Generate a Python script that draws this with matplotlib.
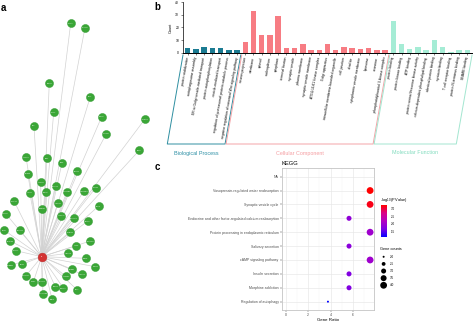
import numpy as np
import matplotlib
matplotlib.use("Agg")
import matplotlib.pyplot as plt
from matplotlib.colors import LinearSegmentedColormap, Normalize
from matplotlib.lines import Line2D
import matplotlib.colorbar as mcolorbar

plt.rcParams['font.family'] = ['Liberation Sans', 'DejaVu Sans']

# ---------------- data ----------------
# a: hub-and-spoke interaction network (layout positions in layout units)
hub_label = "PA"
hub_pos = (41.7, 256.7)
gene_labels = [
    "STX1A", "SNAP25", "VAMP2", "SYT1", "CPLX1", "RAB3A", "STXBP1", "NSF",
    "UNC13A", "SYN1", "ATG13", "ULK1", "ULK2", "PIK3C3", "BECN1", "ATG14",
    "RB1CC1", "AQP2", "RAB5A", "DYNC1H1", "ARHGDIA", "CREB3", "PRKACA",
    "ADCY5", "GNAS", "CAMK2A", "PPP1CA", "ATP1A3", "SEC61A1", "HSPA5", "CALR",
    "SEC24B", "UBQLN1", "DNAJB11", "EIF2AK3", "ATF6", "KCNJ11", "ABCC8",
    "RIMS2", "GABBR1", "GNB1", "PDE4B", "OPRM1", "ADCY1", "CACNA1A", "ATP2B1",
    "PLCB1", "SNAP23", "VAMP3", "RAB11A", "SYT7", "MAP1LC3B", "WIPI2",
]
node_x = [70.7, 85.0, 49.3, 90.3, 53.7, 101.7, 145.0, 34.0, 106.3, 139.3,
          26.0, 47.0, 62.0, 27.7, 76.7, 40.7, 55.7, 29.7, 46.0, 67.0,
          83.7, 95.7, 14.0, 57.7, 98.7, 42.0, 5.7, 61.3, 74.0, 87.7,
          4.0, 20.0, 70.3, 90.3, 10.0, 76.3, 16.0, 68.3, 85.7, 10.7,
          22.0, 95.3, 72.0, 82.0, 26.0, 65.7, 33.3, 42.0, 55.3, 63.3,
          77.0, 43.0, 52.0]
node_y = [23.3, 27.7, 83.0, 96.7, 112.3, 116.7, 119.0, 126.0, 133.7, 150.3,
          157.0, 158.3, 162.7, 173.7, 171.0, 182.0, 186.3, 192.7, 192.3, 191.7,
          191.3, 187.7, 201.0, 203.3, 206.0, 208.7, 213.7, 215.7, 218.3, 221.0,
          230.0, 230.3, 232.3, 241.0, 241.0, 245.7, 250.7, 253.3, 258.3, 265.0,
          264.3, 266.7, 269.3, 274.3, 275.7, 276.3, 282.0, 281.7, 286.7, 288.0,
          289.7, 293.7, 299.0]

# b: GO enrichment counts
bp_terms = ["protein stabilization", "autophagosome assembly",
            "ER to Golgi vesicle-mediated transport", "protein autophosphorylation",
            "vesicle-mediated transport",
            "regulation of proteasomal protein catabolic process",
            "negative regulation of canonical Wnt signaling pathway"]
bp_counts = [4, 3, 5, 4, 4, 2, 2]
cc_terms = ["neuron projection", "membrane", "cytosol", "nucleoplasm", "cytoplasm",
            "terminal bouton", "synaptic vesicle", "plasma membrane",
            "synaptic vesicle membrane", "ATG1/ULK1 kinase complex",
            "Golgi apparatus", "intracellular membrane-bounded organelle",
            "cell junction", "dendrite", "cytoplasmic vesicle membrane",
            "lysosome", "axoneme", "phosphatidylinositol 3-kinase complex"]
cc_counts = [9, 33, 14, 14, 29, 4, 4, 7, 2, 2, 7, 2, 5, 4, 3, 4, 2, 2]
mf_terms = ["protein binding", "protein kinase binding", "ATP binding",
            "protein serine/threonine kinase activity",
            "calcium-dependent phospholipid binding", "identical protein binding",
            "syntaxin binding", "T cell receptor binding",
            "protein N-terminus binding", "SNARE binding"]
mf_counts = [25, 7, 3, 5, 2, 10, 5, 1, 2, 2]
group_names = ["Biological Process", "Cellular Component", "Molecular Function"]

# c: KEGG enrichment
kegg_terms = ["NA", "Vasopressin-regulated water reabsorption", "Synaptic vesicle cycle",
              "Endocrine and other factor-regulated calcium reabsorption",
              "Protein processing in endoplasmic reticulum", "Salivary secretion",
              "cAMP signaling pathway", "Insulin secretion", "Morphine addiction",
              "Regulation of autophagy"]
kegg_counts = [0, 4, 4, 3, 4, 3, 4, 3, 3, 2]
kegg_ratio = [0.0, 7.55, 7.55, 5.66, 7.55, 5.66, 7.55, 5.66, 5.66, 3.77]
kegg_logp = [np.nan, 3.25, 3.15, 1.85, 2.0, 1.8, 2.0, 1.7, 1.7, 1.08]
size_breaks = [2.0, 2.5, 3.0, 3.5, 4.0]
color_breaks = [3.0, 2.5, 2.0, 1.5]

# ---------------- figure ----------------
W, H = 474, 324
fig = plt.figure(figsize=(W / 100, H / 100), dpi=100)


def fpos(x, y):
    return x / W, 1 - y / H


def fbox(x0, y0, x1, y1):
    return [x0 / W, 1 - y1 / H, (x1 - x0) / W, (y1 - y0) / H]


# ---- panel a: network ----
ax_a = fig.add_axes([0, 0, 155 / W, 1])
ax_a.set_xlim(0, 155)
ax_a.set_ylim(324, 0)
ax_a.axis("off")
for gx, gy in zip(node_x, node_y):
    ax_a.plot([hub_pos[0], gx], [hub_pos[1], gy], color="#d2d2d2", lw=0.5,
              zorder=1, solid_capstyle="butt")
ax_a.scatter(node_x, node_y, s=34, color="#3aa636", edgecolor="#2f9a2f",
             linewidth=0.3, zorder=3)
for gx, gy, g in zip(node_x, node_y, gene_labels):
    ax_a.text(gx, gy, g, fontsize=1.3, color="white", ha="center", va="center",
              zorder=4)
ax_a.scatter([hub_pos[0]], [hub_pos[1]], s=40, color="#d33232",
             edgecolor="#b82a2a", linewidth=0.3, zorder=3)
ax_a.text(hub_pos[0], hub_pos[1], hub_label, fontsize=1.3, color="white",
          ha="center", va="center", zorder=4)

# ---- panel b: GO bar chart ----
terms = bp_terms + cc_terms + mf_terms
counts = bp_counts + cc_counts + mf_counts
bar_cols = (["#1b7b92"] * len(bp_terms) + ["#f77c83"] * len(cc_terms)
            + ["#a5ecd5"] * len(mf_terms))
n = len(terms)
xb = np.arange(n)
ax_b = fig.add_axes(fbox(183, 2, 472, 53))
ax_b.bar(xb, counts, width=0.66, color=bar_cols, zorder=2)
ax_b.set_xlim(-0.57, n - 1 + 0.57)
ax_b.set_ylim(0, 40)
ax_b.set_yticks([0, 10, 20, 30, 40])
ax_b.set_xticks(xb)
ax_b.set_xticklabels(terms, rotation=80, ha="right", va="center",
                     rotation_mode="anchor", fontsize=2.4)
ax_b.tick_params(axis="both", labelsize=2.4, length=1.6, width=0.4, pad=1.2,
                 color="#222222")
for s in ("top", "right"):
    ax_b.spines[s].set_visible(False)
ax_b.spines["left"].set_linewidth(0.5)
ax_b.spines["bottom"].set_linewidth(0.7)
ax_b.set_ylabel("Count", fontsize=2.8, labelpad=2)

# group brackets following the slant of the labels
edges = [-0.57, len(bp_terms) - 0.5, len(bp_terms) + len(cc_terms) - 0.5, n - 1 + 0.57]
br_cols = ["#2f8fa1", "#f4a3a7", "#a3e6d0"]
txt_cols = ["#2a8ea4", "#f59ea2", "#82dcbf"]
y_top, y_bot = 55, 144
shift = -(y_bot - y_top) / np.tan(np.radians(80))
for i in range(3):
    xl = ax_b.transData.transform((edges[i], 0))[0] + (0.6 if i > 0 else 0)
    xr = ax_b.transData.transform((edges[i + 1], 0))[0] - (0.4 if i < 2 else 0)
    xs = [xl, xl + shift, xr + shift, xr]
    ys = [y_top, y_bot, y_bot, y_top]
    fx = [v / W for v in xs]
    fy = [1 - v / H for v in ys]
    fig.add_artist(Line2D(fx, fy, transform=fig.transFigure, color=br_cols[i],
                          lw=0.7))
    cx = (xl + xr) / 2 + shift
    tx, ty = fpos(cx, 153)
    fig.text(tx, ty, group_names[i], fontsize=3.9, color=txt_cols[i],
             ha="center", va="center")

# ---- panel c: KEGG dot plot ----
cmap = LinearSegmentedColormap.from_list(
    "bluered", ["#0000ff", "#7a00e6", "#b000c2", "#da0087", "#ff0000"])
valid = [v for v in kegg_logp if not np.isnan(v)]
norm = Normalize(vmin=min(valid), vmax=max(valid))


def dot_size(c):
    return (4 + (np.asarray(c, dtype=float) - 2) * 21.1) * 0.5184


ax_c = fig.add_axes(fbox(281.7, 168.3, 374.3, 310))
m = len(kegg_terms)
yk = np.arange(m, 0, -1)
rx = np.array(kegg_ratio)
rc = np.array(kegg_counts)
rp = np.array(kegg_logp)
keep = rc > 0
ax_c.scatter(rx[keep], yk[keep], s=dot_size(rc[keep]), c=rp[keep], cmap=cmap,
             norm=norm, zorder=3, linewidths=0, clip_on=False)
pad = 0.05 * (rx.max() - rx.min())
ax_c.set_xlim(rx.min() - pad, rx.max() + pad)
ax_c.set_ylim(0.4, m + 0.6)
ax_c.set_yticks(yk)
ax_c.set_yticklabels(kegg_terms)
ax_c.set_xticks([0, 2, 4, 6])
ax_c.set_xticks([1, 3, 5, 7], minor=True)
ax_c.grid(True, which="major", color="#e6e6e6", lw=0.45, zorder=0)
ax_c.grid(True, which="minor", axis="x", color="#f2f2f2", lw=0.3, zorder=0)
ax_c.set_axisbelow(True)
ax_c.tick_params(axis="both", which="major", labelsize=2.5, length=1.2,
                 width=0.35, pad=1, color="#555555", labelcolor="#4d4d4d")
ax_c.tick_params(which="minor", length=0)
for s in ax_c.spines.values():
    s.set_color("#c4c4c4")
    s.set_linewidth(0.6)
ax_c.set_xlabel("Gene Ratio", fontsize=3.2, labelpad=0.6)
ax_c.set_title("KEGG", loc="left", fontsize=4.2, pad=2.5)

# colour legend
tx, ty = fpos(380, 200)
fig.text(tx, ty, r"-log$_{10}$(P Value)", fontsize=2.8, ha="left", va="center")
cax = fig.add_axes(fbox(380.7, 205, 387.3, 237.3))
cb = mcolorbar.ColorbarBase(cax, cmap=cmap, norm=norm, orientation="vertical")
cb.outline.set_visible(False)
cb.set_ticks(color_breaks)
cb.set_ticklabels([f"{v:.1f}" for v in color_breaks])
cax.tick_params(labelsize=2.2, length=1.2, width=0.3, color="white", pad=1.5)

# size legend
tx, ty = fpos(380, 249)
fig.text(tx, ty, "Gene counts", fontsize=2.8, ha="left", va="center")
ax_s = fig.add_axes(fbox(379, 252.5, 400, 286))
ax_s.set_xlim(0, 1)
ax_s.set_ylim(len(size_breaks) + 0.1, 0.4)
ax_s.axis("off")
ys = np.arange(1, len(size_breaks) + 1)
ax_s.scatter(np.full(len(size_breaks), 0.22), ys, s=dot_size(size_breaks),
             color="black", linewidths=0, clip_on=False)
for yv, b in zip(ys, size_breaks):
    ax_s.text(0.5, yv, f"{b:.1f}", fontsize=2.2, ha="left", va="center")

# panel letters
for lab, (px, py) in zip("abc", [(3, 8), (157, 7), (157, 167)]):
    lx, ly = fpos(px, py)
    fig.text(lx, ly, lab, fontsize=7, fontweight="bold", ha="center", va="center")

fig.savefig("out.png", dpi=100)
